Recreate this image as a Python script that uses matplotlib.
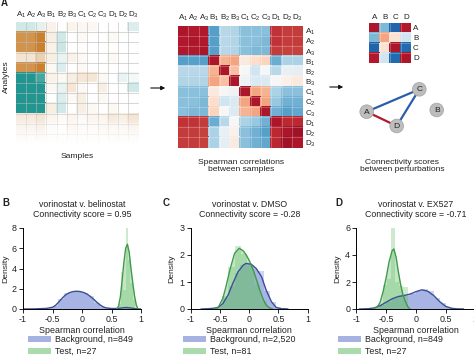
import numpy as np
import matplotlib
matplotlib.use("Agg")
import matplotlib.pyplot as plt
from matplotlib.colors import LinearSegmentedColormap
from matplotlib.patches import Patch, Circle

plt.rcParams['font.family'] = ['Liberation Sans', 'DejaVu Sans']
plt.rcParams['mathtext.fontset'] = 'custom'
plt.rcParams['mathtext.rm'] = 'Liberation Sans'
plt.rcParams['mathtext.it'] = 'Liberation Sans:italic'
plt.rcParams['text.color'] = '#222222'
plt.rcParams['axes.labelcolor'] = '#222222'
plt.rcParams['xtick.color'] = '#222222'
plt.rcParams['ytick.color'] = '#222222'

W, H = 474, 356
FS = 6.1

# ---- panel A data ----
sample_labels = ["A", "A", "A", "B", "B", "B", "C", "C", "C", "D", "D", "D"]
sample_index = [1, 2, 3, 1, 2, 3, 1, 2, 3, 1, 2, 3]

# analyte x sample values (teal = low, orange = high)
analyte_values = [
    [-0.2, -0.2, -0.12, 0.1, 0.0, 0.08, 0.06, 0.06, 0.0, 0.0, 0.0, -0.15],
    [0.8, 0.8, 0.95, 0.12, -0.2, 0.0, 0.05, 0.0, 0.0, 0.05, 0.0, 0.0],
    [0.8, 0.8, 0.95, 0.1, -0.22, 0.0, 0.0, 0.0, 0.0, 0.0, 0.0, 0.0],
    [0.2, 0.2, 0.35, 0.12, -0.1, 0.1, 0.05, 0.0, 0.0, 0.05, 0.0, 0.0],
    [0.8, 0.8, 0.95, 0.05, -0.15, 0.0, 0.05, 0.0, 0.0, 0.0, 0.0, 0.0],
    [-0.95, -0.95, -0.8, 0.1, 0.05, 0.12, 0.18, 0.18, 0.05, 0.0, -0.1, -0.05],
    [-0.95, -0.95, -0.95, 0.05, -0.1, 0.18, 0.05, 0.0, 0.12, 0.0, 0.0, -0.2],
    [-0.95, -0.95, -0.95, 0.0, -0.15, 0.05, 0.12, 0.0, 0.05, 0.0, 0.0, 0.0],
    [-0.95, -0.95, -0.95, 0.12, -0.2, 0.0, 0.12, 0.05, 0.0, 0.05, 0.0, 0.0],
    [0.2, 0.2, 0.25, 0.1, 0.05, 0.1, 0.05, 0.1, 0.1, 0.2, 0.15, 0.25],
    [0.15, 0.15, 0.2, 0.05, 0.0, 0.1, 0.05, 0.05, 0.1, 0.1, 0.1, 0.15],
    [0.15, 0.1, 0.15, 0.05, 0.05, 0.05, 0.05, 0.05, 0.05, 0.1, 0.1, 0.1],
]

# Spearman correlations between samples
sample_corr = [
    [0.82, 0.8, 0.8, -0.55, -0.28, -0.3, -0.42, -0.42, -0.42, 0.72, 0.7, 0.7],
    [0.8, 0.82, 0.8, -0.55, -0.28, -0.3, -0.42, -0.42, -0.45, 0.72, 0.7, 0.7],
    [0.8, 0.8, 0.82, -0.55, -0.28, -0.3, -0.42, -0.45, -0.45, 0.7, 0.68, 0.68],
    [-0.55, -0.55, -0.55, 0.82, 0.35, 0.4, 0.1, 0.18, 0.22, -0.5, -0.32, -0.32],
    [-0.28, -0.28, -0.28, 0.35, 0.82, 0.3, 0.0, -0.2, 0.0, -0.28, -0.08, -0.1],
    [-0.3, -0.3, -0.3, 0.4, 0.3, 0.82, -0.05, -0.15, -0.15, 0.0, 0.05, 0.1],
    [-0.42, -0.42, -0.42, 0.1, 0.0, -0.05, 0.82, 0.4, 0.35, -0.32, -0.42, -0.42],
    [-0.42, -0.42, -0.45, 0.18, -0.2, -0.15, 0.4, 0.82, 0.4, -0.38, -0.48, -0.48],
    [-0.42, -0.45, -0.45, 0.22, 0.0, -0.15, 0.35, 0.4, 0.82, -0.48, -0.55, -0.52],
    [0.72, 0.72, 0.7, -0.5, -0.28, 0.0, -0.32, -0.38, -0.48, 0.82, 0.75, 0.75],
    [0.7, 0.7, 0.68, -0.32, -0.08, 0.05, -0.42, -0.48, -0.55, 0.75, 0.82, 0.85],
    [0.7, 0.7, 0.68, -0.32, -0.1, 0.1, -0.42, -0.48, -0.52, 0.75, 0.85, 0.82],
]

# connectivity between perturbations
perturbations = ["A", "B", "C", "D"]
pert_scores = [
    [0.82, -0.45, -0.8, 0.8],
    [-0.45, 0.4, 0.15, -0.2],
    [-0.8, 0.15, 0.82, -0.78],
    [0.8, -0.2, -0.78, 0.82],
]

# network layout (pixel positions in the figure) and edges
node_names = ["A", "B", "C", "D"]
node_x = [366.7, 436.7, 419.3, 396.7]
node_y = [111.7, 110.0, 89.3, 126.0]
edges = [("A", "C", -1), ("C", "D", -1), ("A", "D", 1)]

# ---- panels B-D data ----
titles = ["vorinostat v. belinostat\nConnectivity score = 0.95",
          "vorinostat v. DMSO\nConnectivity score = -0.28",
          "vorinostat v. EX527\nConnectivity score = -0.71"]
bg_counts = ["849", "2,520", "849"]
test_counts = ["27", "81", "27"]
y_max = [8, 3, 6]
y_ticks = [[0, 2, 4, 6, 8], [0, 1, 2, 3], [0, 2, 4, 6]]

# background histograms
bg_edges_B = [-0.6, -0.5, -0.4, -0.3, -0.2, -0.1, 0.0, 0.1, 0.2, 0.3, 0.4, 0.5, 0.6, 0.7, 0.8, 0.9]
bg_heights_B = [0.08, 0.3, 0.95, 1.55, 1.65, 1.8, 1.55, 1.25, 0.6, 0.2, 0.06, 0.05, 0.1, 0.15, 0.05]
bg_edges_C = [-0.75, -0.65, -0.55, -0.45, -0.35, -0.25, -0.15, -0.05, 0.05, 0.15, 0.25, 0.35, 0.45, 0.55, 0.65]
bg_heights_C = [0.02, 0.05, 0.12, 0.4, 0.85, 1.35, 1.62, 1.7, 1.5, 1.4, 0.65, 0.25, 0.06, 0.02]
bg_edges_D = [-0.9, -0.8, -0.7, -0.6, -0.5, -0.4, -0.3, -0.2, -0.1, 0.0, 0.1, 0.2, 0.3, 0.4, 0.5, 0.6, 0.7]
bg_heights_D = [0.02, 0.05, 0.1, 0.3, 0.55, 0.8, 0.95, 1.0, 1.12, 1.3, 1.5, 1.35, 0.85, 0.45, 0.15, 0.03]

# test histograms
test_edges_B = [0.62, 0.66, 0.70, 0.74, 0.78, 0.82, 0.86, 0.90]
test_heights_B = [0.5, 3.7, 1.9, 8.1, 4.8, 2.6, 0.9]
test_edges_C = [-0.47, -0.36, -0.25, -0.14, -0.03, 0.08, 0.19, 0.30]
test_heights_C = [0.5, 1.55, 2.35, 2.05, 1.6, 0.9, 0.3]
test_edges_D = [-0.63, -0.56, -0.49, -0.42, -0.35, -0.28, -0.21, -0.14]
test_heights_D = [0.3, 1.8, 2.2, 6.05, 2.0, 1.7, 1.6]

# density curves
bg_kde_x_B = [-1.0, -0.8, -0.6, -0.5, -0.45, -0.4, -0.35, -0.3, -0.25, -0.2, -0.15, -0.1, -0.05, 0.0,
              0.05, 0.1, 0.15, 0.2, 0.25, 0.3, 0.35, 0.4, 0.5, 0.6, 0.7, 0.75, 0.8, 0.9, 1.0]
bg_kde_y_B = [0.0, 0.01, 0.06, 0.17, 0.35, 0.65, 0.98, 1.28, 1.5, 1.64, 1.72, 1.75, 1.74, 1.68,
              1.58, 1.42, 1.2, 0.95, 0.68, 0.43, 0.24, 0.12, 0.05, 0.05, 0.12, 0.15, 0.12, 0.03, 0.0]
test_kde_x_B = [0.59, 0.62, 0.65, 0.68, 0.71, 0.74, 0.77, 0.8, 0.83, 0.86, 0.89, 0.92, 0.95]
test_kde_y_B = [0.0, 0.3, 1.2, 2.8, 4.6, 6.0, 6.4, 5.6, 4.0, 2.6, 1.3, 0.4, 0.0]

bg_kde_x_C = [-0.82, -0.7, -0.6, -0.53, -0.45, -0.36, -0.28, -0.19, -0.1, -0.05, 0.04, 0.12,
              0.21, 0.29, 0.38, 0.46, 0.55, 0.66]
bg_kde_y_C = [0.0, 0.01, 0.03, 0.06, 0.2, 0.52, 0.95, 1.38, 1.63, 1.69, 1.65, 1.5,
              1.2, 0.7, 0.27, 0.06, 0.01, 0.0]
test_kde_x_C = [-0.6, -0.53, -0.45, -0.4, -0.33, -0.25, -0.17, -0.1, -0.05, 0.0, 0.07, 0.13,
                0.18, 0.24, 0.29, 0.34, 0.4]
test_kde_y_C = [0.0, 0.05, 0.4, 0.8, 1.45, 2.06, 2.25, 2.15, 2.0, 1.8, 1.44, 1.05,
                0.7, 0.35, 0.15, 0.05, 0.0]

bg_kde_x_D = [-0.95, -0.8, -0.7, -0.6, -0.5, -0.4, -0.3, -0.2, -0.1, 0.0, 0.1, 0.2, 0.3, 0.4,
              0.5, 0.6, 0.7, 0.8]
bg_kde_y_D = [0.0, 0.02, 0.08, 0.25, 0.5, 0.75, 0.92, 1.0, 1.1, 1.28, 1.42, 1.32, 1.0, 0.55,
              0.2, 0.05, 0.01, 0.0]
test_kde_x_D = [-0.72, -0.65, -0.6, -0.55, -0.5, -0.45, -0.4, -0.37, -0.33, -0.3, -0.26, -0.22,
                -0.18, -0.14, -0.1]
test_kde_y_D = [0.0, 0.15, 0.5, 1.3, 2.3, 3.5, 4.3, 4.45, 3.8, 2.9, 1.9, 1.1, 0.6, 0.2, 0.0]

BLUE = '#6a7fd0'
BLUE_LINE = '#3b4f96'
GREEN = '#66bf69'
GREEN_LINE = '#3f9a4c'


def box(x0, y0, x1, y1):
    # pixel box (top-left origin) -> figure fraction
    return [x0 / W, 1 - y1 / H, (x1 - x0) / W, (y1 - y0) / H]


def heat_axes(rect, data, cmap, xlabels, ylabels=None, grid='#ffffff', galpha=0.35, lw=0.5):
    ax = fig.add_axes(rect)
    data = np.array(data)
    nr, nc = data.shape
    ax.pcolormesh(data, cmap=cmap, vmin=-1, vmax=1, edgecolors='face', antialiased=False)
    # thin cell borders
    ax.hlines(np.arange(1, nr), 0, nc, color=grid, alpha=galpha, lw=lw)
    ax.vlines(np.arange(1, nc), 0, nr, color=grid, alpha=galpha, lw=lw)
    ax.set_xlim(0, nc)
    ax.set_ylim(nr, 0)
    ax.xaxis.tick_top()
    ax.set_xticks(np.arange(nc) + 0.5)
    ax.set_xticklabels(xlabels, fontsize=5.8)
    if ylabels is None:
        ax.set_yticks([])
    else:
        ax.yaxis.tick_right()
        ax.set_yticks(np.arange(nr) + 0.5)
        ax.set_yticklabels(ylabels, fontsize=5.8)
    ax.tick_params(length=0, pad=1.5)
    for s in ax.spines.values():
        s.set_visible(False)
    return ax


fig = plt.figure(figsize=(W / 100, H / 100), dpi=100)

ov = fig.add_axes([0, 0, 1, 1])
ov.set_xlim(0, W)
ov.set_ylim(H, 0)
ov.axis('off')

sub_labels = [f"{s}$_{{{i}}}$" for s, i in zip(sample_labels, sample_index)]

# ---- left heatmap: analytes x samples ----
an_cmap = LinearSegmentedColormap.from_list("an", ['#16918a', '#ffffff', '#c77a22'])
ax1 = heat_axes(box(15.5, 22, 138.5, 144), analyte_values, an_cmap, sub_labels,
                grid='#b8b8b8', galpha=0.8, lw=0.5)
fade = np.ones((50, 1, 4))
fade[:, 0, 3] = np.linspace(0.15, 1.0, 50)
ax1.imshow(fade, extent=(0, 12, 12, 9), aspect='auto', zorder=3)
ax1.set_xlim(0, 12)
ax1.set_ylim(12, 0)

# ---- middle heatmap: correlations ----
heat_axes(box(178, 25.5, 302.5, 147.5), sample_corr, 'RdBu_r', sub_labels, sub_labels)

# ---- small heatmap: perturbations ----
heat_axes(box(369, 23, 411, 63), pert_scores, 'RdBu_r', perturbations, perturbations)

# ---- network ----
pos = {n: (x, y) for n, x, y in zip(node_names, node_x, node_y)}
for a, b, sign in edges:
    ov.plot([pos[a][0], pos[b][0]], [pos[a][1], pos[b][1]],
            color='#b01c2c' if sign > 0 else '#2a5ea8', lw=1.6, zorder=2)
for n in node_names:
    ov.add_patch(Circle(pos[n], 6.8, facecolor='#bdbdbd', edgecolor='#a8a8a8', lw=0.6, zorder=3))
    ov.text(pos[n][0], pos[n][1] + 0.3, n, ha='center', va='center', fontsize=FS, zorder=4)

# arrows and captions
ov.annotate('', xy=(168, 88), xytext=(148, 88),
            arrowprops=dict(arrowstyle='-|>', color='#111111', lw=0.8, mutation_scale=6))
ov.annotate('', xy=(346, 87), xytext=(327, 87),
            arrowprops=dict(arrowstyle='-|>', color='#111111', lw=0.8, mutation_scale=6))
ov.text(6.5, 77, 'Analytes', rotation=90, ha='center', va='center', fontsize=FS)
ov.text(77, 157, 'Samples', ha='center', va='center', fontsize=FS)
ov.text(241, 166, 'Spearman correlations\nbetween samples', ha='center', va='center',
        fontsize=FS, linespacing=1.15)
ov.text(402, 166, 'Connectivity scores\nbetween perturbations', ha='center', va='center',
        fontsize=FS, linespacing=1.15)

for lab, x, y in [('A', 0.5, 3), ('B', 2, 203), ('C', 163, 203), ('D', 335, 203)]:
    ov.text(x, y, lab, fontsize=7, fontweight='bold', ha='left', va='center')

# ---- B, C, D ----
panel_boxes = [(23, 228, 141, 309), (190.7, 228, 307.7, 309), (356.4, 228, 475.3, 309)]
legend_x = [28, 183, 338]
bg_hist = [(bg_edges_B, bg_heights_B), (bg_edges_C, bg_heights_C), (bg_edges_D, bg_heights_D)]
test_hist = [(test_edges_B, test_heights_B), (test_edges_C, test_heights_C), (test_edges_D, test_heights_D)]
bg_kde = [(bg_kde_x_B, bg_kde_y_B), (bg_kde_x_C, bg_kde_y_C), (bg_kde_x_D, bg_kde_y_D)]
test_kde = [(test_kde_x_B, test_kde_y_B), (test_kde_x_C, test_kde_y_C), (test_kde_x_D, test_kde_y_D)]

for i in range(3):
    ax = fig.add_axes(box(*panel_boxes[i]))
    for (e, h), (kx, ky), col, line in [(bg_hist[i], bg_kde[i], BLUE, BLUE_LINE),
                                        (test_hist[i], test_kde[i], GREEN, GREEN_LINE)]:
        e = np.array(e)
        ax.bar(e[:-1], h, width=np.diff(e), align='edge', color=col, alpha=0.32, lw=0)
        ax.fill_between(kx, ky, color=col, alpha=0.38, lw=0)
        ax.plot(kx, ky, color=line, lw=1.0)
    ax.set_xlim(-1, 1)
    ax.set_ylim(0, y_max[i])
    ax.set_xticks([-1, -0.5, 0, 0.5, 1])
    ax.set_xticklabels(['-1', '-0.5', '0', '0.5', '1'])
    ax.set_yticks(y_ticks[i])
    ax.tick_params(labelsize=FS + 0.3, length=3, width=0.7, pad=1.5)
    ax.spines['top'].set_visible(False)
    ax.spines['right'].set_visible(False)
    for s in ['left', 'bottom']:
        ax.spines[s].set_linewidth(0.7)
    ax.set_xlabel('Spearman correlation', fontsize=FS + 0.3, labelpad=1)
    ax.set_ylabel('Density', fontsize=FS, labelpad=1.5 if i == 0 else 3)
    ax.set_title(titles[i], fontsize=FS + 0.2, pad=8, linespacing=1.15)
    handles = [Patch(facecolor=BLUE, alpha=0.6, lw=0), Patch(facecolor=GREEN, alpha=0.55, lw=0)]
    ax.legend(handles, [f'Background, n={bg_counts[i]}', f'Test, n={test_counts[i]}'],
              loc='upper left', bbox_to_anchor=(legend_x[i] / W, 1 - 335 / H),
              bbox_transform=fig.transFigure, frameon=False, fontsize=FS + 0.3,
              handlelength=2.6, handleheight=0.6, labelspacing=0.35,
              borderpad=0, borderaxespad=0, handletextpad=0.4)

fig.savefig('out.png', dpi=100)
